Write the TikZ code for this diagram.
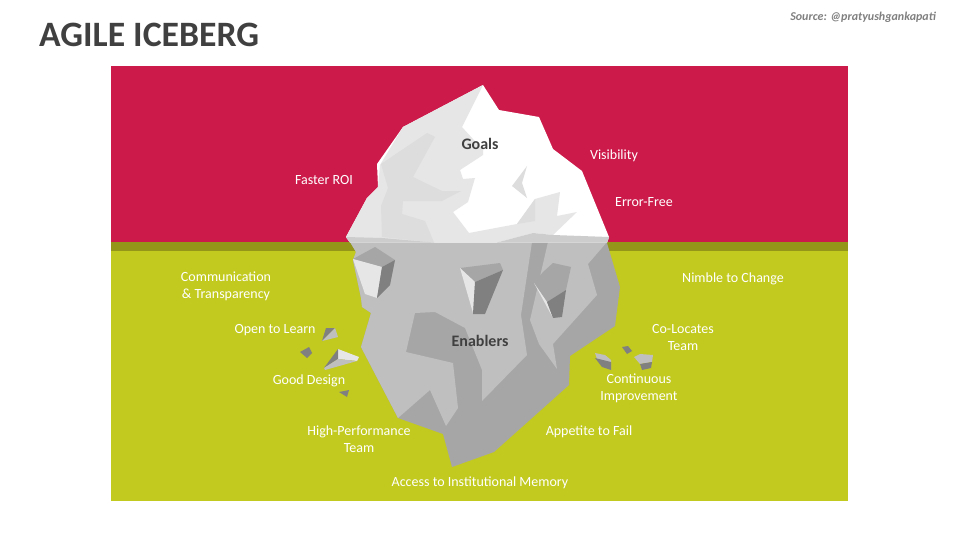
\documentclass[tikz,border=0pt]{standalone}
\usepackage{fontspec}
\setmainfont{Carlito}
\definecolor{pinkbg}{HTML}{CC1B4B}
\definecolor{olivebg}{HTML}{939619}
\definecolor{greenbg}{HTML}{C2CA1F}
\definecolor{icedark}{HTML}{A6A6A6}
\definecolor{icemid}{HTML}{BFBFBF}
\definecolor{icedeep}{HTML}{808080}
\definecolor{snowa}{HTML}{E6E6E6}
\definecolor{snowb}{HTML}{DDDDDD}
\definecolor{snowc}{HTML}{CDCDCD}
\definecolor{inkc}{HTML}{404040}
\tikzset{
  lab/.style={text=white,font=\fontsize{14}{17}\selectfont,align=center,inner sep=0pt},
  keylab/.style={text=inkc,font=\fontsize{16}{17}\selectfont\bfseries,inner sep=0pt},
  facet/.style={fill=#1,draw=none},
}
\begin{document}
\begin{tikzpicture}[x=1pt,y=-1pt]
\useasboundingbox (0,0) rectangle (960,540);
\fill[white] (0,0) rectangle (960,540);
\fill[pinkbg] (111,66) rectangle (848,243);
\fill[olivebg] (111,242) rectangle (848,251);
\fill[greenbg] (111,251) rectangle (848,501);
% underwater body
\path[facet=icedark] (347,237)--(356,252)--(353,260)--(361,298)--(362,307)--(371,313)--(361,347)--(398,418)--(443,434)--(452,467)--(494,452)--(569,385)--(570,356)--(615,326)--(620,287)--(607,243)--(609,237)--cycle;
\path[facet=icemid] (347,237)--(356,252)--(353,260)--(361,298)--(362,307)--(371,313)--(361,347)--(398,418)--(430,390)--(446,426)--(458,408)--(453,363)--(406,352)--(415,313)--(435,312)--(465,328)--(482,370)--(482,401)--(527,355)--(521,315)--(532,242)--cycle;
\path[facet=icemid] (548,242)--(530,320)--(539,344)--(557,369)--(553,344)--(597,295)--(588,264)--(607,242)--cycle;
% chunks
\path[facet=icedark] (353,259)--(375,247)--(395,260)--(382,267)--cycle;
\path[facet=snowa] (353,259)--(382,267)--(377,298)--(365,294)--cycle;
\path[facet=icedeep] (382,267)--(395,260)--(390,285)--(377,298)--cycle;
\path[facet=icedark] (460,268)--(500,263)--(503,270)--(475,282)--cycle;
\path[facet=snowa] (460,268)--(475,282)--(473,313)--cycle;
\path[facet=icedeep] (475,282)--(503,270)--(485,314)--(473,314)--cycle;
\path[facet=icedark] (553,263)--(571,267)--(566,290)--(547,302)--(534,283)--(543,272)--cycle;
\path[facet=snowa] (534,283)--(547,302)--(553,318)--cycle;
\path[facet=icedeep] (547,302)--(566,290)--(562,317)--(553,318)--cycle;
% above water
\path[facet=white] (346,237)--(367,198)--(378,187)--(377,164)--(403,127)--(483,85)--(499,110)--(539,117)--(553,149)--(582,171)--(609,237)--(607,242.5)--(350,242.5)--cycle;
\path[facet=snowa] (346,237)--(367,198)--(378,187)--(380,165)--(403,127)--(483,85)--(462,127)--(483,150)--(483,155)--(460,170)--(463,179)--(475,178)--(468,202)--(453,212)--(469,233)--(517,224)--(535,199)--(560,192)--(557,216)--(577,212)--(553,235)--(533,233)--(497,242.5)--(350,242.5)--cycle;
\path[facet=snowb] (381,164)--(427,133)--(435,137)--(413,177)--(442,191)--(461,191)--(442,201)--(403,201)--(402,214)--(425,221)--(434,242.5)--(382,237)--(381,206)--(388,188)--cycle;
\path[facet=snowb] (527,166)--(512,186)--(527,198)--(522,183)--cycle;
\path[facet=snowb] (535,199)--(517,224)--(535,221)--cycle;
\path[facet=snowc] (346,237)--(382,238)--(434,242.5)--(350,242.5)--cycle;
\path[facet=snowc] (497,242.5)--(533,233)--(553,235)--(609,237)--(607,242.5)--cycle;
% rocks
\path[facet=icedeep] (326,328)--(335,328)--(322,341)--cycle;
\path[facet=icemid] (335,328)--(338,337)--(322,341)--cycle;
\path[facet=icedeep] (300,352)--(309,347)--(312,353)--(307,358)--cycle;
\path[facet=snowa] (338,349)--(359,357)--(357,361)--(338,359)--cycle;
\path[facet=icedeep] (338,349)--(338,359)--(324,368)--cycle;
\path[facet=icemid] (324,368)--(338,359)--(357,361)--(325,370)--cycle;
\path[facet=icedeep] (339,392)--(349,390)--(347,397)--cycle;
\path[facet=icemid] (595,353)--(605,355)--(611,360)--(611,370)--(597,359)--cycle;
\path[facet=icedeep] (595,358)--(611,362)--(611,370)--(602,367)--cycle;
\path[facet=icedeep] (622,347)--(628,346)--(632,351)--(627,354)--cycle;
\path[facet=icemid] (634,357)--(640,354)--(653,355)--(652,362)--(640,364)--cycle;
\path[facet=icedeep] (640,364)--(652,362)--(651,368)--(642,370)--cycle;
% text
\node[anchor=west,inner sep=0pt,text=inkc,font=\fontsize{35.7}{40}\selectfont\bfseries] (title) at (39,35) {AGILE ICEBERG};
\node[anchor=east,inner sep=0pt,text=icedeep,font=\fontsize{12}{14}\selectfont\bfseries\itshape] (src) at (936,17) {Source: @pratyushgankapati};
\node[keylab] (goals) at (480,144) {Goals};
\node[keylab] (enablers) at (480,341) {Enablers};
\node[lab] (roi) at (324,180) {Faster ROI};
\node[lab] (vis) at (614,155.7) {Visibility};
\node[lab] (err) at (644,202) {Error-Free};
\node[lab] (comm) at (226,286.7) {Communication\\\& Transparency};
\node[lab] (learn) at (275,329.7) {Open to Learn};
\node[lab] (design) at (309,380.7) {Good Design};
\node[lab] (perf) at (359,439) {High-Performance\\Team};
\node[lab] (mem) at (480,482.7) {Access to Institutional Memory};
\node[lab] (fail) at (589,431.7) {Appetite to Fail};
\node[lab] (improve) at (639,388.7) {Continuous\\Improvement};
\node[lab] (coloc) at (683,337.7) {Co-Locates\\Team};
\node[lab] (nimble) at (733,278.7) {Nimble to Change};
\end{tikzpicture}
\end{document}
